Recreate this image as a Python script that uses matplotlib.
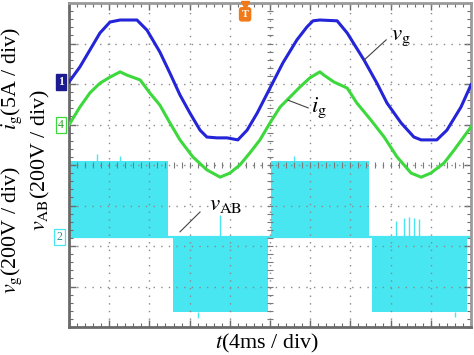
import numpy as np
import matplotlib
matplotlib.use("Agg")
import matplotlib.pyplot as plt
from matplotlib.ticker import MultipleLocator

plt.rcParams["font.family"] = ["Liberation Serif", "DejaVu Serif"]
plt.rcParams["mathtext.fontset"] = "stix"

# scope traces, in divisions (x: 0..10, y: 0..8)
vg_t = [0.00, 0.27, 0.52, 0.77, 1.02, 1.27, 1.69, 1.94, 2.26, 2.51, 2.76, 3.01,
        3.26, 3.43, 3.68, 3.93, 4.20, 4.43, 4.68, 5.00, 5.32, 5.67, 5.92, 6.07,
        6.24, 6.67, 6.92, 7.34, 7.66, 7.91, 8.26, 8.58, 8.76, 9.15, 9.40, 9.75, 10.0]
vg_v = [6.05, 6.42, 6.84, 7.26, 7.53, 7.58, 7.58, 7.33, 6.79, 6.27, 5.73, 5.28,
        4.86, 4.69, 4.67, 4.67, 4.62, 4.86, 5.28, 5.90, 6.52, 7.09, 7.41, 7.56,
        7.58, 7.56, 7.26, 6.59, 6.02, 5.53, 5.04, 4.69, 4.62, 4.62, 4.86, 5.43, 5.98]

ig_t = [0.00, 0.27, 0.52, 0.77, 1.02, 1.27, 1.44, 1.77, 2.01, 2.26, 2.51, 2.76,
        3.08, 3.43, 3.76, 4.00, 4.25, 4.50, 4.75, 5.00, 5.25, 5.50, 5.75, 5.99,
        6.24, 6.34, 6.59, 6.92, 7.16, 7.51, 7.84, 8.16, 8.51, 8.76, 9.00, 9.33,
        9.58, 10.0]
ig_v = [4.99, 5.43, 5.78, 6.02, 6.17, 6.30, 6.22, 6.10, 5.78, 5.48, 5.04, 4.62,
        4.20, 3.88, 3.70, 3.80, 4.00, 4.30, 4.62, 5.04, 5.43, 5.68, 5.93, 6.15,
        6.30, 6.22, 6.05, 5.90, 5.53, 5.11, 4.69, 4.20, 3.80, 3.70, 3.80, 4.05,
        4.37, 4.94]

# v_AB pwm envelope
vab_zero = 2.22
vab_pos_top = 4.10
vab_neg_bot = 0.37
vab_pos_start = [0.00, 5.02]
vab_pos_end = [2.46, 7.46]
vab_neg_start = [2.59, 7.54]
vab_neg_end = [4.95, 9.90]
spike_t = [0.70, 1.27, 5.60, 3.76, 8.13, 8.33, 8.46, 8.58, 8.71, 3.21, 9.60]
spike_lo = [4.10, 4.10, 4.10, 2.22, 2.22, 2.22, 2.22, 2.22, 2.22, 0.37, 0.37]
spike_hi = [4.27, 4.22, 4.22, 2.77, 2.62, 2.70, 2.72, 2.68, 2.66, 0.22, 0.24]

blue = "#2424d8"
green = "#3cd83c"
cyan = "#48e6f0"
frame = "#6a6a6a"

fig = plt.figure(figsize=(4.74, 3.55), dpi=100)
ax = fig.add_axes([69 / 474, 28 / 355, 402 / 474, 324 / 355])
ax.set_xlim(0, 10)
ax.set_ylim(0, 8)

# pwm bands
for s, e in zip(vab_pos_start, vab_pos_end):
    ax.fill_between([s, e], vab_zero, vab_pos_top, color=cyan, lw=0, zorder=1)
for s, e in zip(vab_neg_start, vab_neg_end):
    ax.fill_between([s, e], vab_neg_bot, vab_zero, color=cyan, lw=0, zorder=1)
ax.plot([0, 10], [vab_zero, vab_zero], color=cyan, lw=1.6, zorder=1)
ax.vlines(spike_t, spike_lo, spike_hi, color=cyan, lw=1, zorder=1)

# graticule
for gx in range(1, 10):
    ax.axvline(gx, color="#8a8a8a", lw=1, ls=(0, (1, 4.5)), zorder=2)
for gy in range(1, 8):
    ax.axhline(gy, color="#8a8a8a", lw=1, ls=(0, (1, 4.5)), zorder=2)
ax.plot(np.arange(0, 10.01, 0.2), np.full(51, 4.0), ls="none", marker="|",
        ms=4, mew=0.8, color="#7a7a7a", zorder=2)
ax.plot(np.full(41, 5.0), np.arange(0, 8.01, 0.2), ls="none", marker="_",
        ms=4, mew=0.8, color="#7a7a7a", zorder=2)

# traces
ax.plot(vg_t, vg_v, color=blue, lw=2.2, zorder=3)
ax.plot(ig_t, ig_v, color=green, lw=2.2, zorder=3)

for sp in ax.spines.values():
    sp.set_color(frame)
    sp.set_linewidth(2)
ax.spines["top"].set_color("#9a9a9a")
ax.spines["right"].set_color("#9a9a9a")
ax.xaxis.set_major_locator(MultipleLocator(1))
ax.xaxis.set_minor_locator(MultipleLocator(0.2))
ax.yaxis.set_major_locator(MultipleLocator(1))
ax.yaxis.set_minor_locator(MultipleLocator(0.2))
ax.tick_params(which="both", direction="in", top=True, right=True,
               labelbottom=False, labelleft=False, color=frame)
ax.tick_params(which="major", length=5, width=1)
ax.tick_params(which="minor", length=3, width=0.8)

# trace labels with leader lines
lab = dict(fontsize=16.5, color="black", zorder=5)
ax.text(8.01, 7.09, r"$v_{\rm g}$", ha="left", va="baseline", **lab)
ax.plot([7.89, 7.34], [7.09, 6.59], color="#444444", lw=0.8, zorder=4)
ax.text(6.02, 5.31, r"$i_{\rm g}$", ha="left", va="baseline", **lab)
ax.plot([5.45, 5.95], [5.60, 5.41], color="#444444", lw=0.8, zorder=4)
ax.text(3.49, 2.89, r"$v_{\rm AB}$", ha="left", va="baseline", **lab)
ax.plot([3.26, 2.76], [2.84, 2.35], color="#444444", lw=0.8, zorder=4)

# channel markers
ax.text(-0.2, 6.05, "1", ha="center", va="center", fontsize=8.5, color="white",
        fontweight="bold", clip_on=False, zorder=6,
        bbox=dict(boxstyle="square,pad=0.2", fc="#1c1c90", ec="#1c1c90"))
ax.text(-0.2, 4.99, "4", ha="center", va="center", fontsize=8.5, color="#2aa02a",
        clip_on=False, zorder=6,
        bbox=dict(boxstyle="square,pad=0.2", fc="white", ec=green, lw=0.9))
ax.text(-0.24, 2.22, "2", ha="center", va="center", fontsize=8.5, color="#2a9090",
        clip_on=False, zorder=6,
        bbox=dict(boxstyle="square,pad=0.2", fc="white", ec=cyan, lw=0.9))
ax.text(4.38, 7.72, "T", ha="center", va="center", fontsize=7.5, color="white",
        fontweight="bold", zorder=6,
        bbox=dict(boxstyle="round,pad=0.2", fc="#f07a1a", ec="#f07a1a"))
ax.plot([4.38], [7.95], marker="v", ms=6, color="#f07a1a", ls="none",
        clip_on=False, zorder=6)

# axis labels
fs = 15.8
fig.text(215 / 474, 7 / 355, r"$t$(4ms / div)", ha="left", va="baseline", fontsize=fs)
fig.text(12 / 474, 1 - 230 / 355, r"$v_{\rm g}$(200V / div)", rotation=90,
         ha="center", va="center", fontsize=fs)
fig.text(12 / 474, 1 - 79 / 355, r"$i_{\rm g}$(5A / div)", rotation=90,
         ha="center", va="center", fontsize=fs)
fig.text(40 / 474, 1 - 160 / 355, r"$v_{\rm AB}$(200V / div)", rotation=90,
         ha="center", va="center", fontsize=fs)

fig.savefig("out.png", dpi=100, facecolor="white")
